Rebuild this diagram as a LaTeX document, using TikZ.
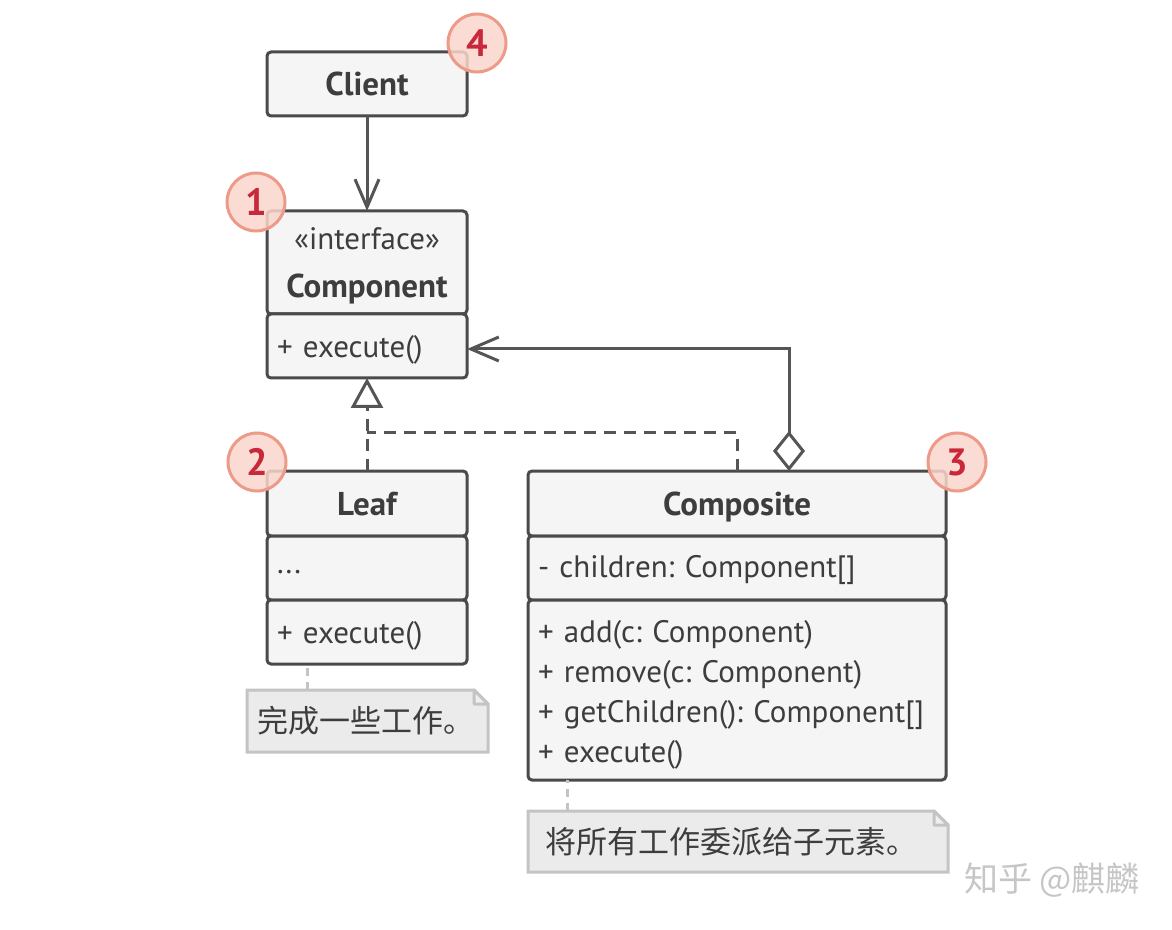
\documentclass[tikz,border=0pt]{standalone}
\usepackage{fontspec}
\setmainfont{PT Sans}
\newfontfamily\cjk{Noto Sans CJK SC}
\usetikzlibrary{positioning,arrows.meta,backgrounds}

\definecolor{boxedge}{HTML}{4A4A4A}
\definecolor{boxfill}{HTML}{F5F5F5}
\definecolor{txt}{HTML}{3D3D3D}
\definecolor{wire}{HTML}{555555}
\definecolor{badgefill}{HTML}{FAD6CC}
\definecolor{badgeedge}{HTML}{EE9A88}
\definecolor{badgenum}{HTML}{C8283A}
\definecolor{notefill}{HTML}{EBEBEB}
\definecolor{noteedge}{HTML}{C4C4C4}

\frenchspacing
\def\umlfont{\fontsize{15.5}{20}\selectfont}
\def\titlefont{\bfseries\fontsize{16.5}{20}\selectfont}
\def\lift#1{\rule{0pt}{#1}}
\tikzset{classbox/.style={draw=boxedge, fill=boxfill, line width=1.5pt, rounded corners=2pt,
        text=txt, inner sep=0pt, outer sep=0pt, minimum height=32pt, font=\umlfont},
    title/.style={classbox, font=\titlefont, align=center, text depth=0pt},
    members/.style={classbox, text width=#1, align=left, inner xsep=5pt},
    badge/.style={circle, draw=badgeedge, fill=badgefill, fill opacity=0.85, text opacity=1,
        line width=1.5pt, minimum size=29pt, inner sep=0pt, text=badgenum,
        font=\bfseries\fontsize{19}{19}\selectfont},
    notebox/.style={inner sep=0pt, outer sep=0pt, text=txt, align=left, font=\cjk\fontsize{15.5}{18}\selectfont},
    noteline/.style={draw=noteedge, line width=1.5pt, dash pattern=on 4pt off 3pt},
    assoc/.style={draw=wire, line width=1.5pt, -{Straight Barb[length=14pt, width=12pt, line width=1.5pt]}},
    realize/.style={draw=wire, line width=1.5pt, dash pattern=on 6pt off 4pt},
    aggr/.style={draw=wire, line width=1.5pt, {Diamond[open, length=20pt, width=16pt, line width=1.5pt]}-{Straight Barb[length=14pt, width=12pt, line width=1.5pt]}}}

\newcommand\dogear[1]{%
    \draw[fill=notefill, draw=noteedge, line width=1.5pt] (#1.north west) -- ([xshift=-7pt]#1.north east)
        -- ([yshift=-7pt]#1.north east) -- (#1.south east) -- (#1.south west) -- cycle;
    \draw[fill=notefill!80, draw=noteedge, line width=1.5pt, line join=round] ([xshift=-7pt]#1.north east)
        |- ([yshift=-7pt]#1.north east) -- cycle;}

\begin{document}
\begin{tikzpicture}[x=0.5pt, y=-0.5pt]
    \useasboundingbox (0,0) rectangle (1172,930);

    % client
    \node[title, minimum width=100pt] (client) at (367,84) {Client};

    % component interface
    \node[title, minimum width=100pt, minimum height=51.5pt, anchor=north] (compHead) at (367,211)
        {{\mdseries\umlfont\guillemotleft interface\guillemotright}\\[4pt]Component};
    \node[members=90pt, below=0pt of compHead] (compOps) {\lift{14.5pt}+ execute()};

    % leaf
    \node[title, minimum width=100pt, minimum height=32.5pt, anchor=north] (leafHead) at (367,471) {Leaf};
    \node[members=90pt, below=0pt of leafHead] (leafAttr) {\lift{6pt}...};
    \node[members=90pt, below=0pt of leafAttr] (leafOps) {\lift{14.5pt}+ execute()};

    % composite
    \node[title, minimum width=209pt, minimum height=32.5pt, anchor=north] (compoHead) at (737,471) {Composite};
    \node[members=199pt, below=0pt of compoHead] (compoAttr) {\lift{13.5pt}- children: Component[]};
    \node[members=199pt, minimum height=90pt, below=0pt of compoAttr] (compoOps)
        {\lift{15.5pt}+ add(c: Component)\\+ remove(c: Component)\\+ getChildren(): Component[]\\+ execute()};

    % notes
    \node[notebox, anchor=north west, minimum width=120.5pt, minimum height=31pt, text width=110.5pt,
        inner xsep=5pt] (leafNote) at (247,690) {完成一些工作。};
    \node[notebox, anchor=north west, minimum width=210pt, minimum height=30.5pt, text width=193pt,
        inner xsep=8.5pt] (compoNote) at (528,811) {将所有工作委派给子元素。};
    \begin{scope}[on background layer]
        \dogear{leafNote}
        \dogear{compoNote}
    \end{scope}
    \draw[noteline] ([xshift=30pt]leafNote.north west) -- ([xshift=30pt]leafNote.north west |- leafOps.south);
    \draw[noteline] ([xshift=19.5pt]compoNote.north west) -- ([xshift=19.5pt]compoNote.north west |- compoOps.south);

    % relations
    \coordinate (split) at (367,432);
    \draw[assoc] (client) -- (compHead);
    \draw[realize, -{Triangle[open, length=15pt, width=16pt, line width=1.5pt]}] (leafHead.north) -- (compOps.south);
    \draw[realize] (compoHead.north) |- (split);
    \draw[aggr] ([xshift=26pt]compoHead.north) |- ([yshift=-1.5pt]compOps.east);

    % badges
    \node[badge] (badge1) at ([shift={(-5.5pt,4.5pt)}]compHead.north west) {1};
    \node[badge] (badge2) at ([shift={(-5pt,4.5pt)}]leafHead.north west) {2};
    \node[badge] (badge3) at ([shift={(5.5pt,4.5pt)}]compoHead.north east) {3};
    \node[badge] (badge4) at ([shift={(5pt,4.5pt)}]client.north east) {4};

    \node[text=gray!45, font=\cjk\fontsize{17}{17}\selectfont] (mark) at (1052,880) {知乎 @麒麟};
\end{tikzpicture}
\end{document}
